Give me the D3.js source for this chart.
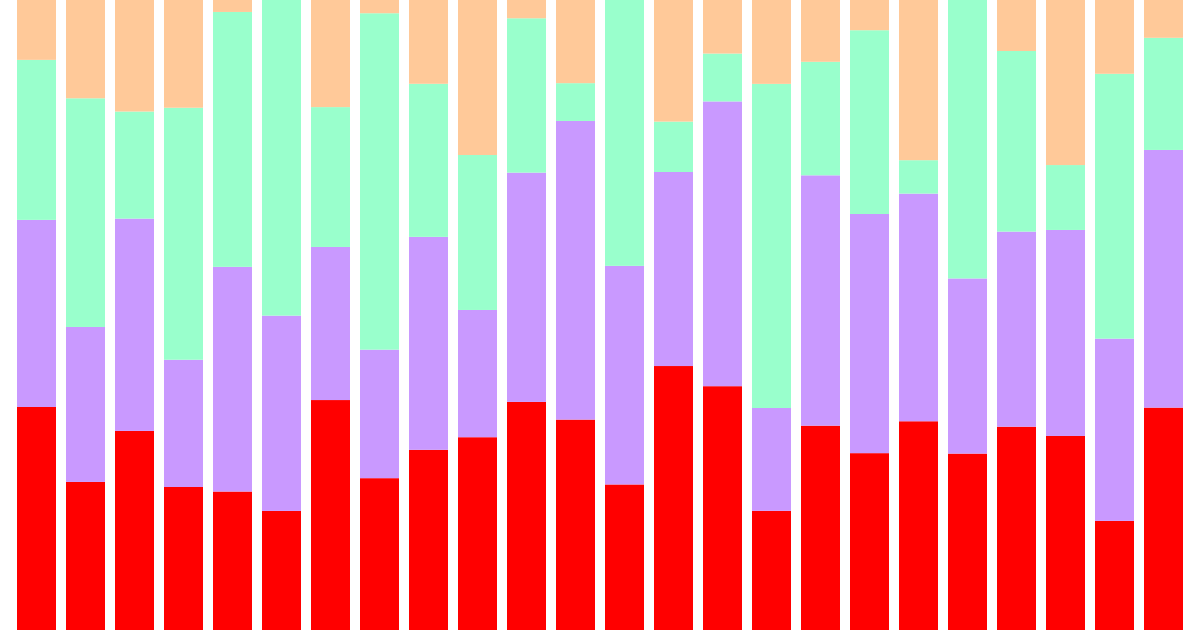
<!DOCTYPE html>
<html>
<head>
<meta charset="utf-8">
<script src="https://cdn.jsdelivr.net/npm/d3@7"></script>
<style>
  html, body { margin: 0; padding: 0; background: #ffffff; }
  svg { display: block; }
</style>
</head>
<body>
<svg id="chart" width="1200" height="630"></svg>
<script>
const categories = ["1","2","3","4","5","6","7","8","9","10","11","12","13","14","15","16","17","18","19","20","21","22","23","24"];
const seriesNames = ["A","B","C","D"];
const seriesA = [35.4,23.5,31.6,22.7,22.0,18.9,36.5,24.1,28.6,30.6,36.2,33.4,23.1,41.9,38.7,18.9,32.4,28.1,33.1,28.0,32.3,30.8,17.3,35.3];
const seriesB = [29.7,24.6,33.7,20.2,35.7,31.0,24.3,20.4,33.8,20.2,36.4,47.4,34.7,30.8,45.2,16.3,39.7,38.0,36.1,27.8,31.0,32.7,28.9,40.9];
const seriesC = [25.4,36.3,17.0,40.0,40.5,50.1,22.2,53.4,24.3,24.6,24.5,6.0,42.2,8.0,7.6,51.4,18.0,29.2,5.3,44.2,28.7,10.3,42.0,17.8];
const seriesD = [9.5,15.6,17.7,17.1,1.9,0.0,17.0,2.1,13.3,24.6,2.9,13.2,0.0,19.3,8.5,13.3,9.8,4.8,25.4,0.0,8.1,26.2,11.7,6.0];
const colors = ["#ff0000","#c999ff","#99ffcc","#ffc999"];

const width = 1200, height = 630;
const rows = categories.map((c, i) => ({
  cat: c, A: seriesA[i], B: seriesB[i], C: seriesC[i], D: seriesD[i]
}));

const stack = d3.stack().keys(seriesNames).offset(d3.stackOffsetExpand);
const layers = stack(rows);

const x = d3.scaleBand().domain(categories).range([0, width])
  .paddingInner(10/49).paddingOuter(17/49);
const y = d3.scaleLinear().domain([0, 1]).range([height, 0]);
const color = d3.scaleOrdinal().domain(seriesNames).range(colors);

const svg = d3.select("#chart");
svg.selectAll("g.layer")
  .data(layers)
  .join("g")
  .attr("class", "layer")
  .attr("fill", d => color(d.key))
  .selectAll("rect")
  .data(d => d)
  .join("rect")
  .attr("x", d => x(d.data.cat))
  .attr("width", x.bandwidth())
  .attr("y", d => y(d[1]))
  .attr("height", d => y(d[0]) - y(d[1]));
</script>
</body>
</html>
